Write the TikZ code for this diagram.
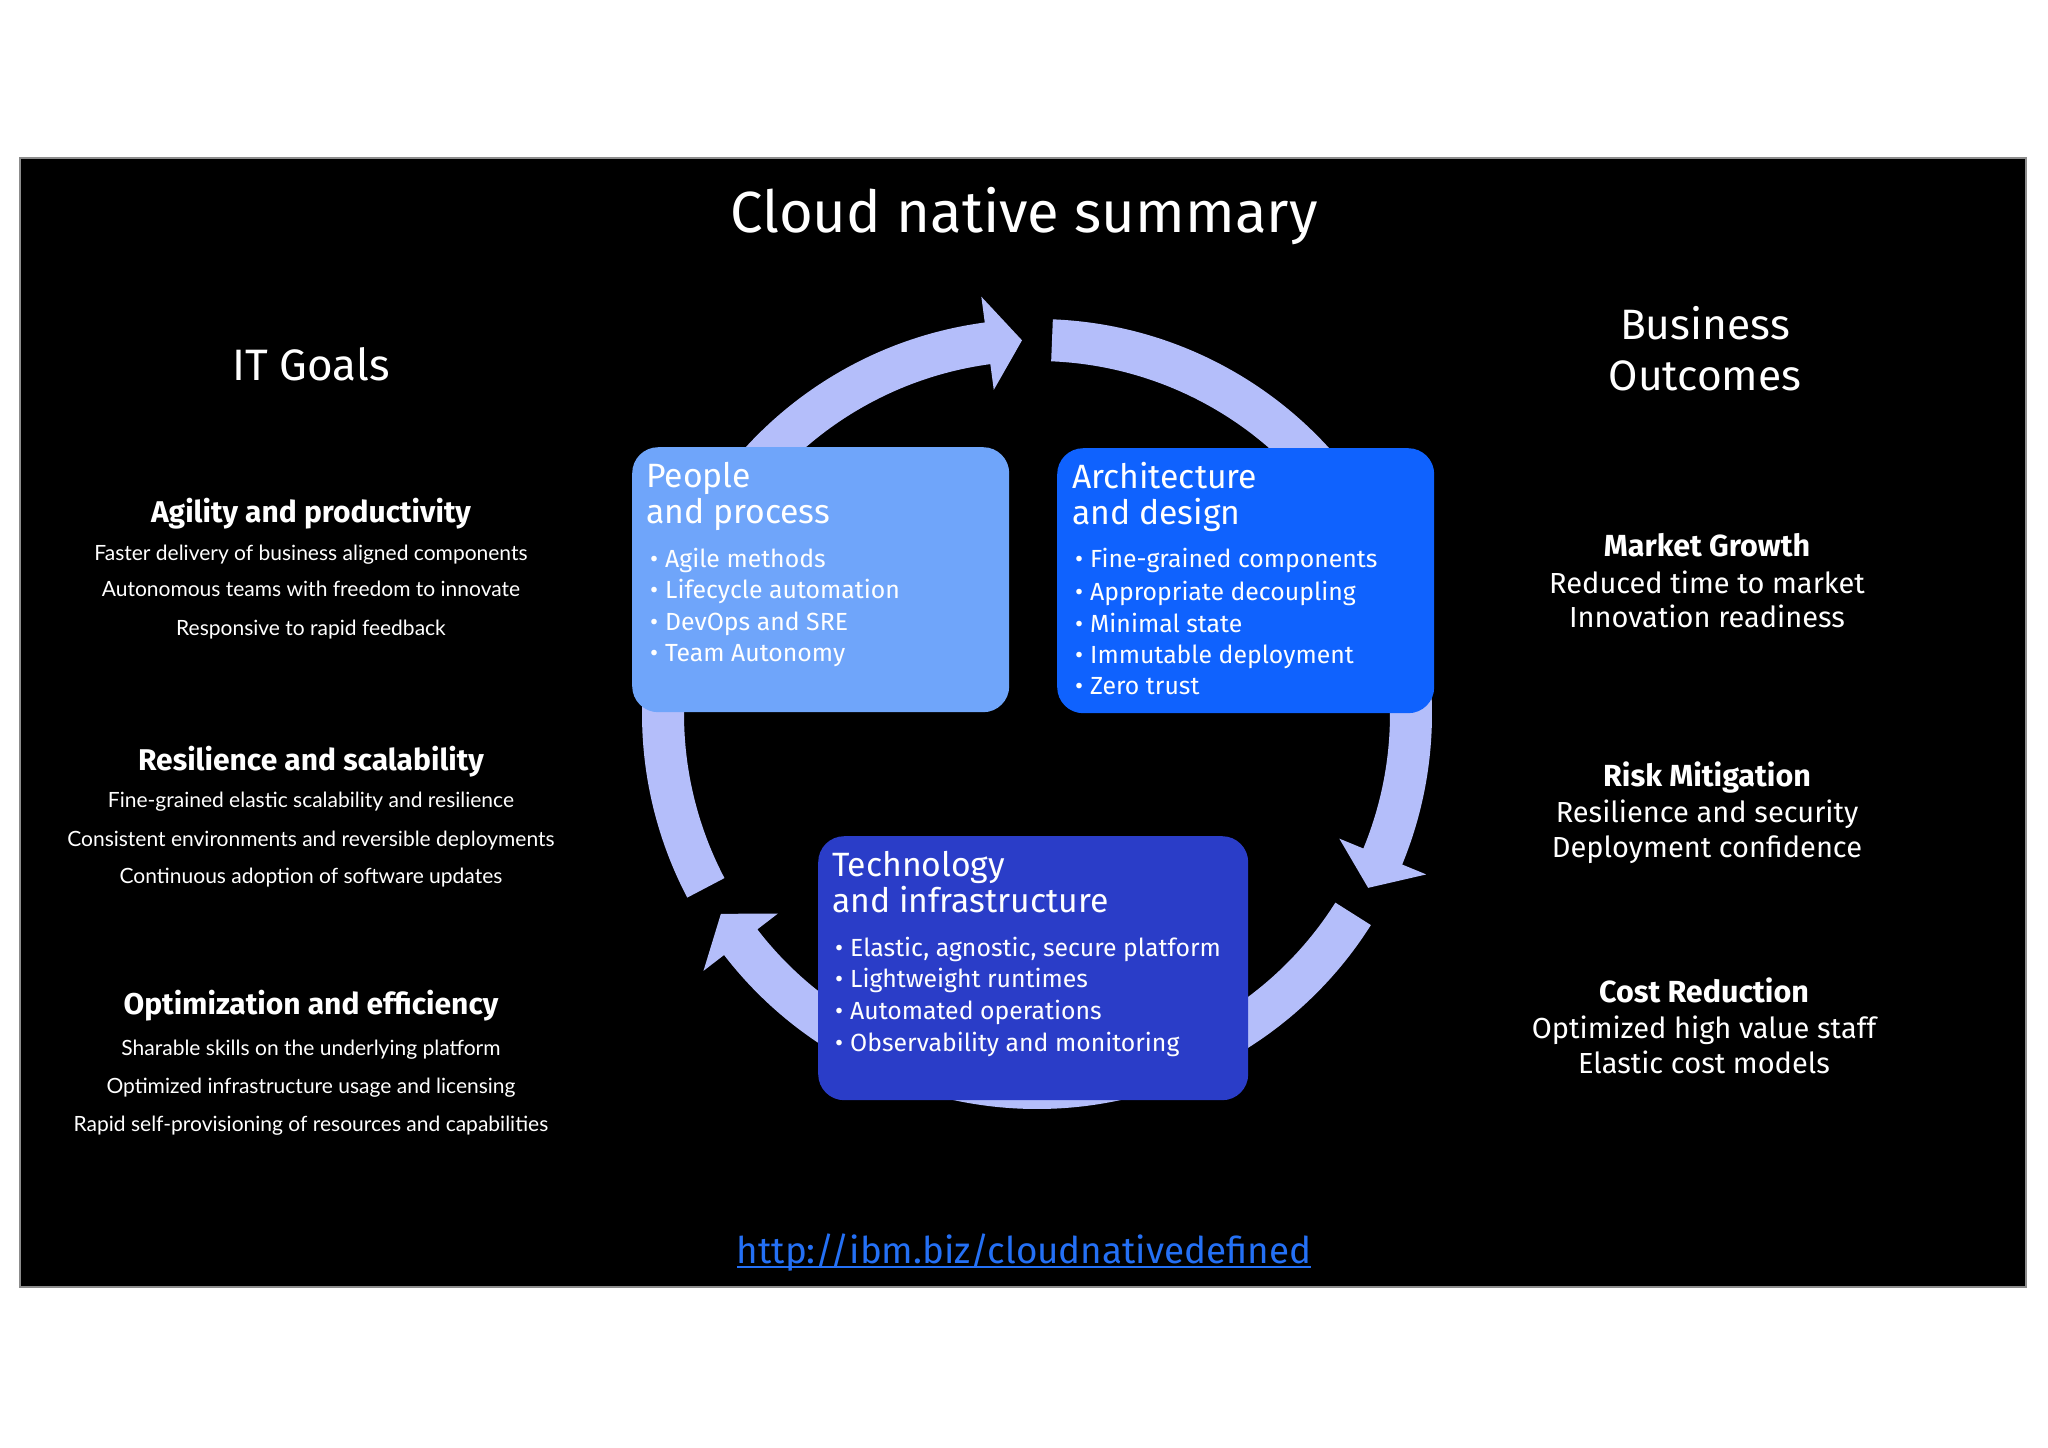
\documentclass[tikz,border=0pt]{standalone}
\usepackage{fontspec}
\setmainfont{Fira Sans}
\newfontfamily\latofont{Lato}
\usetikzlibrary{calc}
\definecolor{ringc}{RGB}{180,190,250}
\definecolor{pplc}{RGB}{111,165,250}
\definecolor{archc}{RGB}{15,98,254}
\definecolor{techc}{RGB}{42,61,200}
\definecolor{urlc}{RGB}{36,112,245}
\definecolor{framec}{RGB}{140,140,140}
\tikzset{
  txt/.style={inner sep=0pt, text=white},
  ctr/.style={txt, anchor=base},
  lft/.style={txt, anchor=base west},
  ttl/.style={ctr, font=\fontsize{58}{70}\selectfont},
  colttl/.style={ctr, font=\fontsize{44}{53}\selectfont},
  bocol/.style={ctr, font=\fontsize{42.5}{51}\selectfont},
  hd/.style={ctr, font=\fontsize{30}{36}\selectfont\bfseries},
  lbody/.style={ctr, font=\latofont\fontsize{21}{25}\selectfont},
  rhd/.style={ctr, font=\fontsize{30.5}{36}\selectfont\bfseries},
  rbody/.style={ctr, font=\fontsize{29}{35}\selectfont},
  cardbox/.style={draw=none, rounded corners=26pt, anchor=north west, inner sep=0pt},
  btitle/.style={lft, font=\fontsize{33.7}{40}\selectfont},
  bitem/.style={lft, font=\fontsize{24.8}{30}\selectfont},
}
\newcommand\mybul{\makebox[15pt][l]{•}}
\newcommand\ringarrow[2]{%
  \pgfmathsetmacro\hbase{#2-5.3}%
  \fill[ringc] ($(C)+(#1:395)$) arc[start angle=#1, end angle=\hbase, radius=395]
   -- ($(C)+(\hbase:421)$) -- ($(C)+(#2:374)$) -- ($(C)+(\hbase:327)$) -- ($(C)+(\hbase:353)$)
   arc[start angle=\hbase, end angle=#1, radius=353] -- cycle;}
\begin{document}
\begin{tikzpicture}[x=1pt,y=-1pt]
\useasboundingbox (0,0) rectangle (2048,1448);
\fill[white] (0,0) rectangle (2048,1448);
\filldraw[fill=black, draw=framec, line width=1.5pt] (20,158) rectangle (2026,1287);

% title
\node[ttl] (title) at (1024,232) {Cloud native summary};

% IT goals
\node[colttl] (itg) at (311,380) {IT Goals};
\node[hd] (h1) at (311,522) {Agility and productivity};
\node[lbody] (l11) at (311,560) {Faster delivery of business aligned components};
\node[lbody] (l12) at (311,596) {Autonomous teams with freedom to innovate};
\node[lbody] (l13) at (311,635) {Responsive to rapid feedback};
\node[hd] (h2) at (311,770) {Resilience and scalability};
\node[lbody] (l21) at (311,807) {Fine-grained elastic scalability and resilience};
\node[lbody] (l22) at (311,846) {Consistent environments and reversible deployments};
\node[lbody] (l23) at (311,883) {Continuous adoption of software updates};
\node[hd] (h3) at (311,1014) {Optimization and efficiency};
\node[lbody] (l31) at (311,1055) {Sharable skills on the underlying platform};
\node[lbody] (l32) at (311,1093) {Optimized infrastructure usage and licensing};
\node[lbody] (l33) at (311,1131) {Rapid self-provisioning of resources and capabilities};

% Business outcomes
\node[bocol] (bo1) at (1705,339) {Business};
\node[bocol] (bo2) at (1705,390) {Outcomes};
\node[rhd] (r1) at (1707,556) {Market Growth};
\node[rbody] (r11) at (1707,593) {Reduced time to market};
\node[rbody] (r12) at (1707,627) {Innovation readiness};
\node[rhd] (r2) at (1707,786) {Risk Mitigation};
\node[rbody] (r21) at (1707,822) {Resilience and security};
\node[rbody] (r22) at (1707,857) {Deployment confidence};
\node[rhd] (r3) at (1704,1002) {Cost Reduction};
\node[rbody] (r31) at (1704,1038) {Optimized high value staff};
\node[rbody] (r32) at (1704,1073) {Elastic cost models};

% ring arrows
\coordinate (C) at (1037,714);
\ringarrow{-207.7}{-92.3}
\ringarrow{-87.7}{27.7}
\ringarrow{32.3}{147.7}

% People and process
\node[cardbox, fill=pplc, minimum width=377pt, minimum height=265pt] (pp) at (632,447) {};
\node[btitle] (ppt1) at (646,487) {People};
\node[btitle] (ppt2) at (646,523) {and process};
\node[bitem] (pp1) at (650,567) {\mybul Agile methods};
\node[bitem] (pp2) at (650,598) {\mybul Lifecycle automation};
\node[bitem] (pp3) at (650,630) {\mybul DevOps and SRE};
\node[bitem] (pp4) at (650,661) {\mybul Team Autonomy};

% Architecture and design
\node[cardbox, fill=archc, minimum width=377pt, minimum height=265pt] (ad) at (1057,448) {};
\node[btitle] (adt1) at (1072,488) {Architecture};
\node[btitle] (adt2) at (1072,524) {and design};
\node[bitem] (ad1) at (1075,567) {\mybul Fine-grained components};
\node[bitem] (ad2) at (1075,600) {\mybul Appropriate decoupling};
\node[bitem] (ad3) at (1075,632) {\mybul Minimal state};
\node[bitem] (ad4) at (1075,663) {\mybul Immutable deployment};
\node[bitem] (ad5) at (1075,694) {\mybul Zero trust};

% Technology and infrastructure
\node[cardbox, fill=techc, minimum width=430pt, minimum height=264pt] (ti) at (818,836) {};
\node[btitle] (tit1) at (832,876) {Technology};
\node[btitle] (tit2) at (832,912) {and infrastructure};
\node[bitem] (ti1) at (835,956) {\mybul Elastic, agnostic, secure platform};
\node[bitem] (ti2) at (835,987) {\mybul Lightweight runtimes};
\node[bitem] (ti3) at (835,1019) {\mybul Automated operations};
\node[bitem] (ti4) at (835,1051) {\mybul Observability and monitoring};

% URL
\node[ctr, text=urlc, font=\fontsize{36.8}{44}\selectfont] (url) at (1024,1263) {http://ibm.biz/cloudnativedefined};
\draw[urlc, line width=2pt] ([yshift=-4pt]url.base west) -- ([yshift=-4pt]url.base east);
\end{tikzpicture}
\end{document}
